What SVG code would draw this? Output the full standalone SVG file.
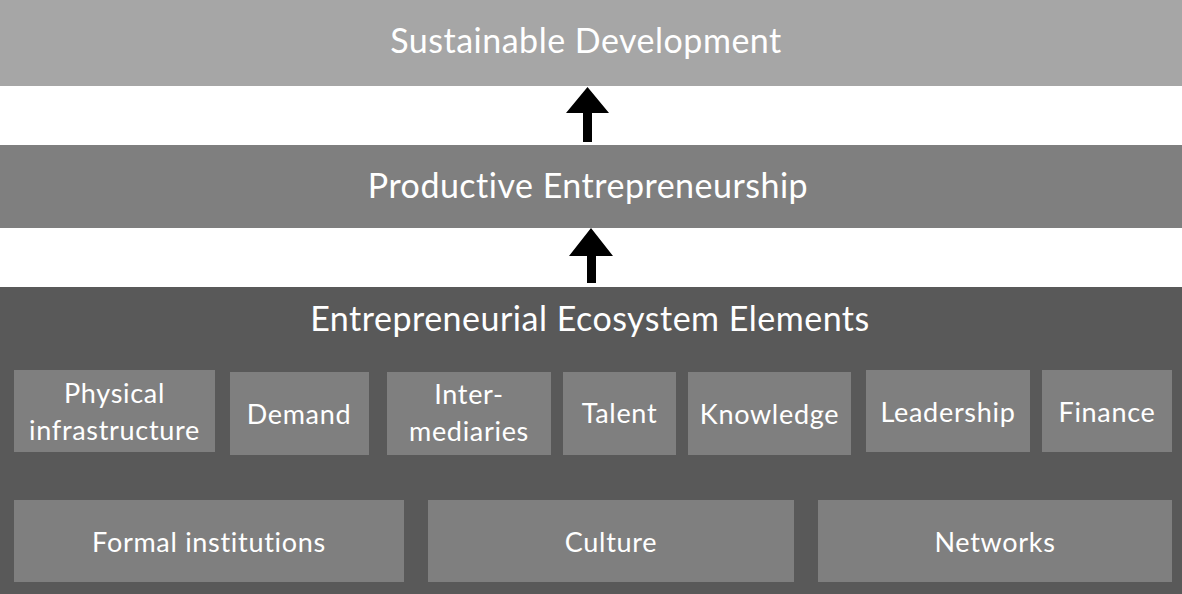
<svg xmlns="http://www.w3.org/2000/svg" width="1182" height="594" viewBox="0 0 1182 594">
<style>
.t{font-family:Lato,"Open Sans","Liberation Sans",sans-serif;fill:#ffffff;text-anchor:middle}
.big{font-size:34px;letter-spacing:0.5px}
.sm{font-size:27px;letter-spacing:0.7px}
.box{fill:#7f7f7f}
.arrow{fill:#000000}
</style>
<rect x="0" y="0" width="1182" height="594" fill="#ffffff"/>
<g id="sustainable-development">
<rect x="0" y="0" width="1182" height="86" fill="#a6a6a6"/>
<text class="t big" x="586" y="53">Sustainable Development</text>
</g>
<g id="productive-entrepreneurship">
<rect x="0" y="145" width="1182" height="83" fill="#7f7f7f"/>
<text class="t big" x="588" y="198">Productive Entrepreneurship</text>
</g>
<g id="ecosystem">
<rect x="0" y="287" width="1182" height="307" fill="#595959"/>
<text class="t big" x="590" y="331">Entrepreneurial Ecosystem Elements</text>
</g>
<g id="physical-infrastructure">
<rect class="box" x="14" y="370" width="201" height="82"/>
<text class="t sm" x="114.5" y="403">Physical</text>
<text class="t sm" x="114.5" y="440">infrastructure</text>
</g>
<g id="demand">
<rect class="box" x="230" y="372" width="139" height="83"/>
<text class="t sm" x="299" y="424">Demand</text>
</g>
<g id="intermediaries">
<rect class="box" x="387" y="372" width="164" height="83"/>
<text class="t sm" x="469" y="404">Inter-</text>
<text class="t sm" x="469" y="441">mediaries</text>
</g>
<g id="talent">
<rect class="box" x="563" y="372" width="113" height="83"/>
<text class="t sm" x="619.5" y="423">Talent</text>
</g>
<g id="knowledge">
<rect class="box" x="688" y="372" width="163" height="83"/>
<text class="t sm" x="769.5" y="424">Knowledge</text>
</g>
<g id="leadership">
<rect class="box" x="866" y="370" width="164" height="82"/>
<text class="t sm" x="948" y="422">Leadership</text>
</g>
<g id="finance">
<rect class="box" x="1042" y="370" width="130" height="82"/>
<text class="t sm" x="1107" y="422">Finance</text>
</g>
<g id="formal-institutions">
<rect class="box" x="14" y="500" width="390" height="82"/>
<text class="t sm" x="209" y="552">Formal institutions</text>
</g>
<g id="culture">
<rect class="box" x="428" y="500" width="366" height="82"/>
<text class="t sm" x="611" y="552">Culture</text>
</g>
<g id="networks">
<rect class="box" x="818" y="500" width="354" height="82"/>
<text class="t sm" x="995" y="552">Networks</text>
</g>
<g id="connectors">
<polygon class="arrow" points="587.5,87 609,113 592,113 592,142 583,142 583,113 566,113"/>
<polygon class="arrow" points="591,228 613,256 596,256 596,283 587,283 587,256 569,256"/>
</g>
</svg>
